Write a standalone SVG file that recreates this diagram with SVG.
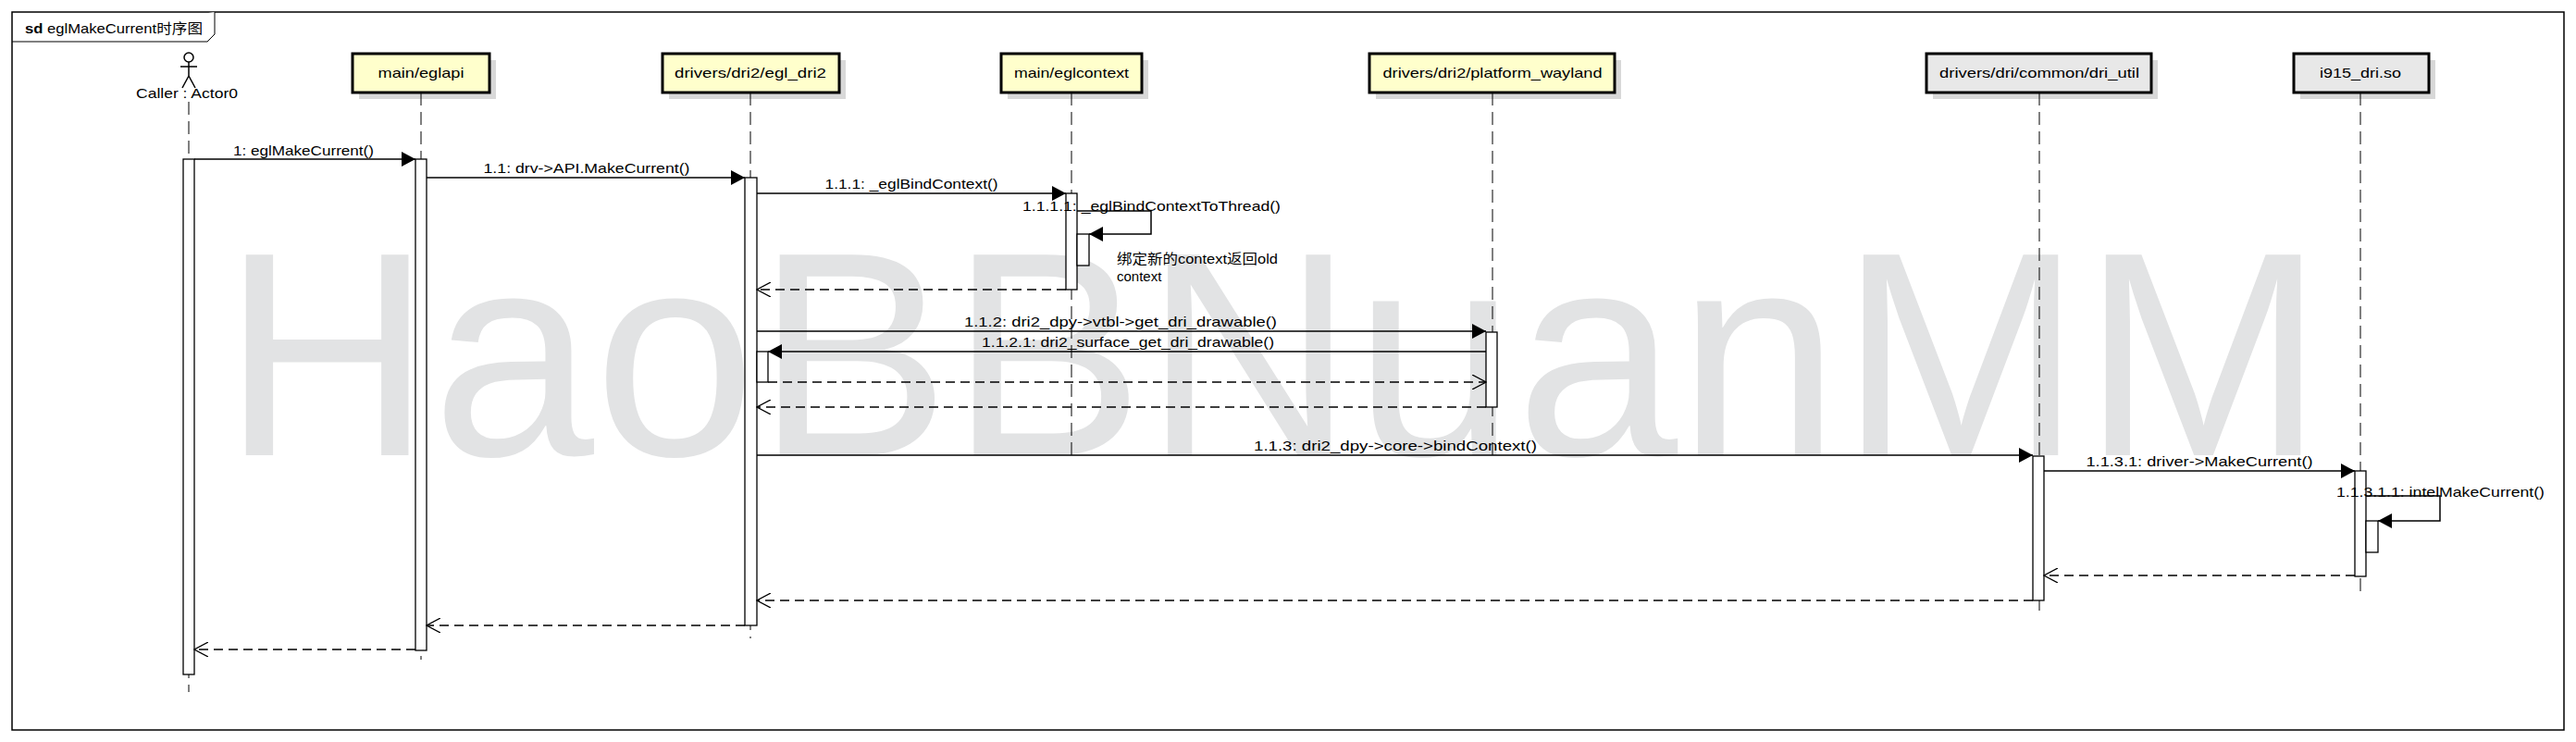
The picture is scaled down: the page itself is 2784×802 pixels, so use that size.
<svg xmlns="http://www.w3.org/2000/svg" width="2784" height="802" viewBox="0 0 2784 802">
<defs>
<style>
text{font-family:"Liberation Sans",Arial,"Noto Sans CJK SC",sans-serif;font-size:15px;fill:#000}
.box{stroke:#000;stroke-width:3}
.y{fill:#FFFFCC}.g{fill:#E8E8E8}
.sh{fill:#D8D8D8}
.life{stroke:#000;stroke-width:1;stroke-dasharray:14,7;fill:none}
.act{fill:#fff;stroke:#000;stroke-width:1.3}
.msg{stroke:#000;stroke-width:1.5;fill:none}
.ret{stroke:#000;stroke-width:1.5;stroke-dasharray:10,6;fill:none}
</style>
<marker id="f" markerWidth="16" markerHeight="16" refX="15" refY="8" orient="auto" markerUnits="userSpaceOnUse"><path d="M0,0 L15,8 L0,16 Z" fill="#000"/></marker>
<marker id="o" markerWidth="16" markerHeight="16" refX="15" refY="8" orient="auto" markerUnits="userSpaceOnUse"><path d="M0,0 L15,8 L0,16" fill="none" stroke="#000" stroke-width="1.3"/></marker>
</defs>
<rect width="2784" height="802" fill="#fff"/>
<text x="240" y="492" style="font-size:315px;fill:#E2E3E4" textLength="2272" lengthAdjust="spacingAndGlyphs">HaoBBNuanMM</text>
<g id="frame">
<rect x="13" y="13" width="2758" height="776" fill="none" stroke="#000" stroke-width="1.5"/>
<path d="M13,45 H224 L232,37 V13" fill="#fff" stroke="#000" stroke-width="1"/>
<text x="27" y="36" textLength="192" lengthAdjust="spacingAndGlyphs"><tspan font-weight="bold">sd</tspan> eglMakeCurrent时序图</text>
</g>
<g id="caller">
<line class="life" x1="204" y1="110" x2="204" y2="748"/>
<circle cx="204" cy="62" r="5" fill="#fff" stroke="#000" stroke-width="1.5"/>
<path d="M204,67 V82 M195,72 H213 M204,82 L197,95 M204,82 L211,95" stroke="#000" stroke-width="1.5" fill="none"/>
<text x="202" y="106" text-anchor="middle" textLength="110" lengthAdjust="spacingAndGlyphs">Caller : Actor0</text>
<rect class="act" x="198" y="172" width="12" height="557"/>
</g>
<g id="eglapi">
<rect class="sh" x="388" y="65" width="148" height="42"/>
<rect class="box y" x="381" y="58" width="148" height="42"/>
<text x="455" y="84" text-anchor="middle" textLength="93" lengthAdjust="spacingAndGlyphs">main/eglapi</text>
<line class="life" x1="455" y1="100" x2="455" y2="713"/>
<rect class="act" x="449" y="172" width="12" height="531"/>
</g>
<g id="egl_dri2">
<rect class="sh" x="723" y="65" width="191" height="42"/>
<rect class="box y" x="716" y="58" width="191" height="42"/>
<text x="811" y="84" text-anchor="middle" textLength="164" lengthAdjust="spacingAndGlyphs">drivers/dri2/egl_dri2</text>
<line class="life" x1="811" y1="100" x2="811" y2="690"/>
<rect class="act" x="805" y="192" width="13" height="484"/>
<rect class="act" x="818" y="380" width="12" height="33"/>
</g>
<g id="eglcontext">
<rect class="sh" x="1089" y="65" width="152" height="42"/>
<rect class="box y" x="1082" y="58" width="152" height="42"/>
<text x="1158" y="84" text-anchor="middle" textLength="124" lengthAdjust="spacingAndGlyphs">main/eglcontext</text>
<line class="life" x1="1158" y1="100" x2="1158" y2="498"/>
<rect class="act" x="1152" y="209" width="12" height="104"/>
<rect class="act" x="1164" y="253" width="13" height="34"/>
</g>
<g id="platform_wayland">
<rect class="sh" x="1487" y="65" width="265" height="42"/>
<rect class="box y" x="1480" y="58" width="265" height="42"/>
<text x="1613" y="84" text-anchor="middle" textLength="237" lengthAdjust="spacingAndGlyphs">drivers/dri2/platform_wayland</text>
<line class="life" x1="1613" y1="100" x2="1613" y2="498"/>
<rect class="act" x="1606" y="359" width="12" height="81"/>
</g>
<g id="dri_util">
<rect class="sh" x="2089" y="65" width="243" height="42"/>
<rect class="box g" x="2082" y="58" width="243" height="42"/>
<text x="2204" y="84" text-anchor="middle" textLength="216" lengthAdjust="spacingAndGlyphs">drivers/dri/common/dri_util</text>
<line class="life" x1="2204" y1="100" x2="2204" y2="667"/>
<rect class="act" x="2197" y="493" width="12" height="156"/>
</g>
<g id="i915">
<rect class="sh" x="2486" y="65" width="146" height="42"/>
<rect class="box g" x="2479" y="58" width="146" height="42"/>
<text x="2551" y="84" text-anchor="middle" textLength="88" lengthAdjust="spacingAndGlyphs">i915_dri.so</text>
<line class="life" x1="2551" y1="100" x2="2551" y2="640"/>
<rect class="act" x="2545" y="509" width="12" height="114"/>
<rect class="act" x="2557" y="563" width="13" height="34"/>
</g>
<g id="connectors">
<line class="msg" x1="210" y1="172" x2="449" y2="172" marker-end="url(#f)"/>
<text x="328" y="168" text-anchor="middle" textLength="152" lengthAdjust="spacingAndGlyphs">1: eglMakeCurrent()</text>
<line class="msg" x1="461" y1="192" x2="805" y2="192" marker-end="url(#f)"/>
<text x="634" y="187" text-anchor="middle" textLength="223" lengthAdjust="spacingAndGlyphs">1.1: drv-&gt;API.MakeCurrent()</text>
<line class="msg" x1="818" y1="209" x2="1152" y2="209" marker-end="url(#f)"/>
<text x="985" y="204" text-anchor="middle" textLength="187" lengthAdjust="spacingAndGlyphs">1.1.1: _eglBindContext()</text>
<polyline class="msg" points="1164,228 1244,228 1244,253 1177,253" marker-end="url(#f)"/>
<text x="1105" y="228" textLength="279" lengthAdjust="spacingAndGlyphs">1.1.1.1: _eglBindContextToThread()</text>
<text x="1207" y="285" textLength="174" lengthAdjust="spacingAndGlyphs">绑定新的context返回old</text>
<text x="1207" y="304">context</text>
<line class="ret" x1="1152" y1="313" x2="818" y2="313" marker-end="url(#o)"/>
<line class="msg" x1="818" y1="358" x2="1606" y2="358" marker-end="url(#f)"/>
<text x="1211" y="353" text-anchor="middle" textLength="338" lengthAdjust="spacingAndGlyphs">1.1.2: dri2_dpy-&gt;vtbl-&gt;get_dri_drawable()</text>
<line class="msg" x1="1606" y1="380" x2="830" y2="380" marker-end="url(#f)"/>
<text x="1219" y="375" text-anchor="middle" textLength="316" lengthAdjust="spacingAndGlyphs">1.1.2.1: dri2_surface_get_dri_drawable()</text>
<line class="ret" x1="830" y1="413" x2="1606" y2="413" marker-end="url(#o)"/>
<line class="ret" x1="1606" y1="440" x2="818" y2="440" marker-end="url(#o)"/>
<line class="msg" x1="818" y1="492" x2="2197" y2="492" marker-end="url(#f)"/>
<text x="1508" y="487" text-anchor="middle" textLength="306" lengthAdjust="spacingAndGlyphs">1.1.3: dri2_dpy-&gt;core-&gt;bindContext()</text>
<line class="msg" x1="2209" y1="509" x2="2545" y2="509" marker-end="url(#f)"/>
<text x="2377" y="504" text-anchor="middle" textLength="245" lengthAdjust="spacingAndGlyphs">1.1.3.1: driver-&gt;MakeCurrent()</text>
<polyline class="msg" points="2557,536 2637,536 2637,563 2570,563" marker-end="url(#f)"/>
<text x="2525" y="537" textLength="225" lengthAdjust="spacingAndGlyphs">1.1.3.1.1: intelMakeCurrent()</text>
<line class="ret" x1="2545" y1="622" x2="2209" y2="622" marker-end="url(#o)"/>
<line class="ret" x1="2197" y1="649" x2="818" y2="649" marker-end="url(#o)"/>
<line class="ret" x1="805" y1="676" x2="461" y2="676" marker-end="url(#o)"/>
<line class="ret" x1="449" y1="702" x2="210" y2="702" marker-end="url(#o)"/>
</g>
</svg>
